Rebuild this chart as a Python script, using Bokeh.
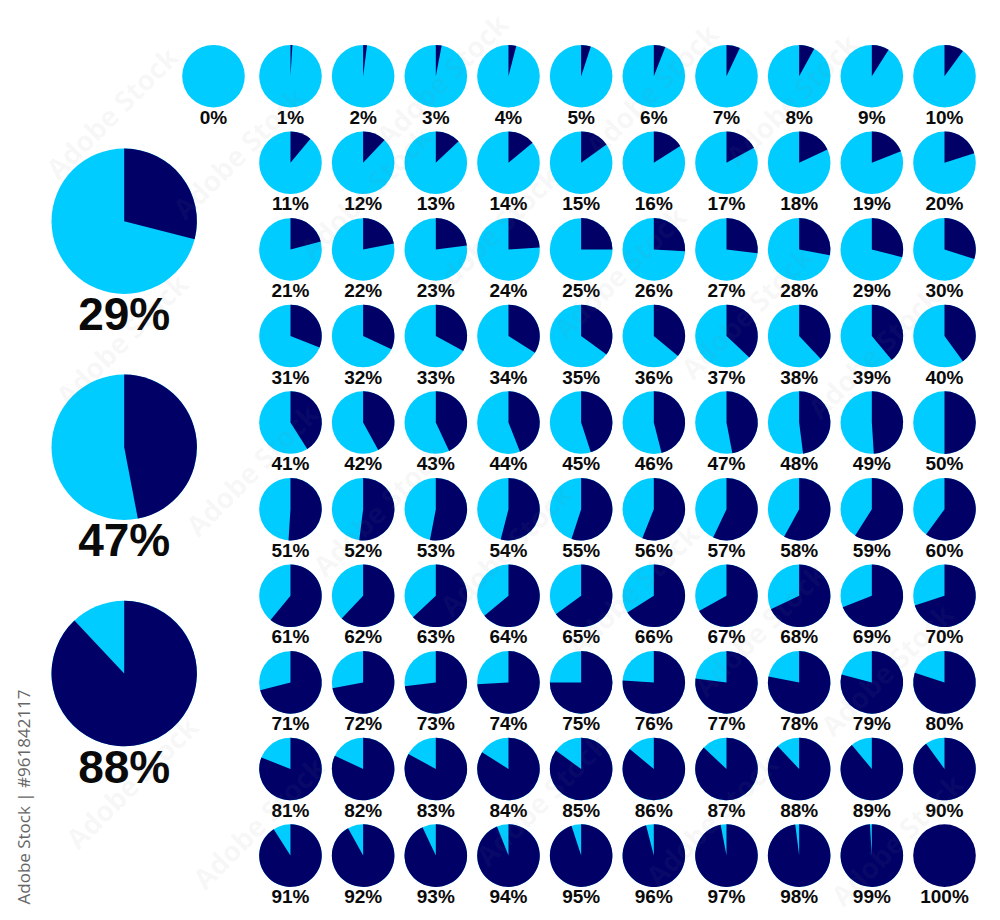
import numpy as np
from bokeh.core.properties import value
from bokeh.embed import file_html
from bokeh.models import ColumnDataSource, Range1d
from bokeh.plotting import figure
from bokeh.resources import INLINE

LIGHT = "#00ccff"
DARK = "#000066"

# percentages drawn in the grid, one list per row
row_0 = [0, 1, 2, 3, 4, 5, 6, 7, 8, 9, 10]
row_1 = [11, 12, 13, 14, 15, 16, 17, 18, 19, 20]
row_2 = [21, 22, 23, 24, 25, 26, 27, 28, 29, 30]
row_3 = [31, 32, 33, 34, 35, 36, 37, 38, 39, 40]
row_4 = [41, 42, 43, 44, 45, 46, 47, 48, 49, 50]
row_5 = [51, 52, 53, 54, 55, 56, 57, 58, 59, 60]
row_6 = [61, 62, 63, 64, 65, 66, 67, 68, 69, 70]
row_7 = [71, 72, 73, 74, 75, 76, 77, 78, 79, 80]
row_8 = [81, 82, 83, 84, 85, 86, 87, 88, 89, 90]
row_9 = [91, 92, 93, 94, 95, 96, 97, 98, 99, 100]
rows = [row_0, row_1, row_2, row_3, row_4, row_5, row_6, row_7, row_8, row_9]
big_values = [29, 47, 88]

W, H = 1000, 920
COL0, COLSTEP = 217.3, 72.67      # reference px of column 0, column pitch
ROW0, ROWSTEP = 75.7, 86.6


def col_of(px):
    return (px - COL0) / COLSTEP


def row_of(py):
    return -(py - ROW0) / ROWSTEP


p = figure(width=W, height=H, output_backend="svg", toolbar_location=None,
           x_range=Range1d(col_of(0), col_of(W)),
           y_range=Range1d(row_of(H), row_of(0)),
           min_border=0, outline_line_color=None, background_fill_color="white")
p.axis.visible = False
p.grid.visible = False

xs, ys, vals = [], [], []
for r, values in enumerate(rows):
    for i, v in enumerate(values):
        xs.append(col_of(213) if v == 0 else (i if r == 0 else i + 1))
        ys.append(-r)
        vals.append(v)
vals = np.array(vals, dtype=float)


def draw_pies(x, y, v, radius, size, offset):
    x, y, v = np.asarray(x, float), np.asarray(y, float), np.asarray(v, float)
    base = np.where(v >= 100, DARK, LIGHT)
    p.circle(x=x, y=y, radius=radius, radius_units="screen", fill_color=base, line_color=None)
    m = (v > 0) & (v < 100)
    src = ColumnDataSource(dict(x=x[m], y=y[m],
                                s=np.full(m.sum(), np.pi / 2),
                                e=np.pi / 2 - 2 * np.pi * v[m] / 100))
    p.wedge(x="x", y="y", radius=radius, radius_units="screen", start_angle="s", end_angle="e",
            direction="clock", fill_color=DARK, line_color=None, source=src)
    p.text(x=x, y=y, text=[f"{int(t)}%" for t in v], x_offset=0, y_offset=offset,
           text_font=value("Liberation Sans"), text_font_style="bold", text_font_size=size,
           text_color="#0a0a0a", text_align="center", text_baseline="alphabetic")


draw_pies(xs, ys, vals, 31.3, "19px", 41)

big_x = [col_of(123.7)] * 3
big_y = [row_of(220.7), row_of(446.7), row_of(673)]
draw_pies(big_x, big_y, big_values, 72.7, "46px", 93)

# faint diagonal watermarks (reference pixel anchor)
wm_x = [50, 177, 304, 431, 558, 685, 812, 70, 197, 190, 317, 444, 571, 698, 825, 835,
        60, 590, 730, 380, 480, 650]
wm_y = [173, 213, 253, 293, 333, 373, 413, 843, 883, 530, 570, 610, 650, 690, 730, 900,
        400, 150, 160, 140, 860, 880]
p.text(x=[col_of(v) for v in wm_x], y=[row_of(v) for v in wm_y],
       text=["Adobe Stock"] * len(wm_x), angle=np.pi / 4,
       text_font=value("Open Sans"), text_font_style="bold", text_font_size="28px",
       text_color="#8a8a8a", text_alpha=0.07, text_align="left", text_baseline="middle")

p.text(x=[col_of(23)], y=[row_of(904)], text=["Adobe Stock | #961842117"], angle=np.pi / 2,
       text_font=value("Open Sans"), text_font_size="17px", text_color="#666666",
       text_align="left", text_baseline="alphabetic")

open("out.html", "w").write(file_html(p, INLINE))
